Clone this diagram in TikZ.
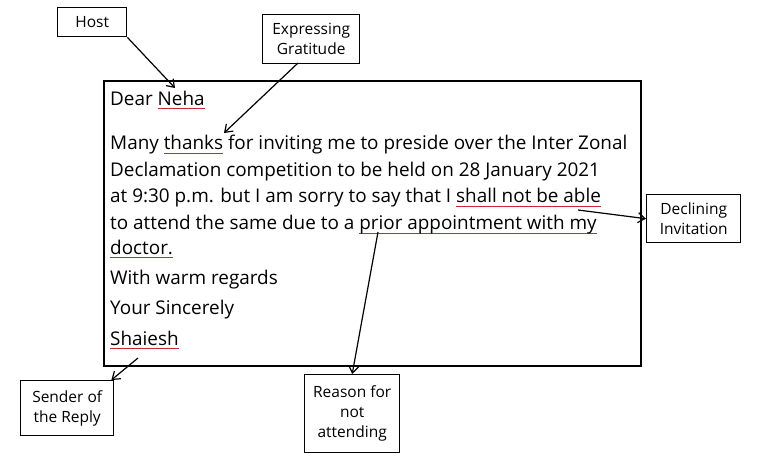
\documentclass[tikz,border=0pt]{standalone}
\usepackage{fontspec}
\setmainfont{Open Sans}
\usepackage{xcolor}
\usetikzlibrary{arrows.meta}
\definecolor{ulred}{RGB}{200,40,60}
\newsavebox\myulbox
\newcommand\myul[1]{\sbox\myulbox{#1}\rlap{\color{ulred}\rule[-4pt]{\wd\myulbox}{1pt}}#1}
\begin{document}
\begin{tikzpicture}[x=1pt,y=-1pt,
  lbl/.style={draw,line width=1.4pt,align=center,font=\fontsize{15.5}{20}\selectfont,inner sep=3pt,anchor=north west},
  txt/.style={anchor=west,inner sep=0pt,font=\fontsize{18.9}{22}\selectfont},
  arr/.style={-{Straight Barb[length=7pt,width=10pt]},line width=1.2pt}]
\useasboundingbox (0,0) rectangle (761,469);
\node[draw,line width=1.5pt,minimum width=537,minimum height=285,anchor=north west] (letter) at (103,80) {};
\node[txt] (l1) at (110,100) {Dear \myul{Neha}};
\node[txt] (l2) at (110,145) {Many \myul{thanks} for inviting me to preside over the Inter Zonal};
\node[txt] (l3) at (110,172) {Declamation competition to be held on 28 January 2021};
\node[txt] (l4) at (110,198) {at 9:30 p.m. but I am sorry to say that I \myul{shall not be able}};
\node[txt] (l5) at (110,225) {to attend the same due to a \myul{prior appointment with my}};
\node[txt] (l6) at (110,249) {\myul{doctor.}};
\node[txt] (l7) at (110,280) {With warm regards};
\node[txt] (l8) at (110,310) {Your Sincerely};
\node[txt] (l9) at (110,340) {\myul{Shaiesh}};
\node[lbl,minimum width=69,minimum height=29] (host) at (57,7) {Host};
\node[lbl,minimum width=97,minimum height=49] (grat) at (262,14) {Expressing\\Gratitude};
\node[lbl,minimum width=94,minimum height=48] (decl) at (646,194) {Declining\\Invitation};
\node[lbl,minimum width=93,minimum height=55] (send) at (20,380) {Sender of\\the Reply};
\node[lbl,minimum width=95,minimum height=78] (reas) at (304,374) {Reason for\\not\\attending};
\coordinate (cNeha) at (175,88);
\coordinate (cThanks) at (224,133);
\coordinate (cAble) at (578,210);
\coordinate (cPrior) at (378,232);
\coordinate (cSh) at (138,358);
\coordinate (gStart) at (298,63);
\draw[arr] (host.south east) -- (cNeha);
\draw[arr] (gStart) -- (cThanks);
\draw[arr] (cAble) -- (decl.west);
\draw[arr] (cPrior) -- (reas.north);
\draw[arr] (cSh) -- ([xshift=-3pt]send.north east);
\end{tikzpicture}
\end{document}
